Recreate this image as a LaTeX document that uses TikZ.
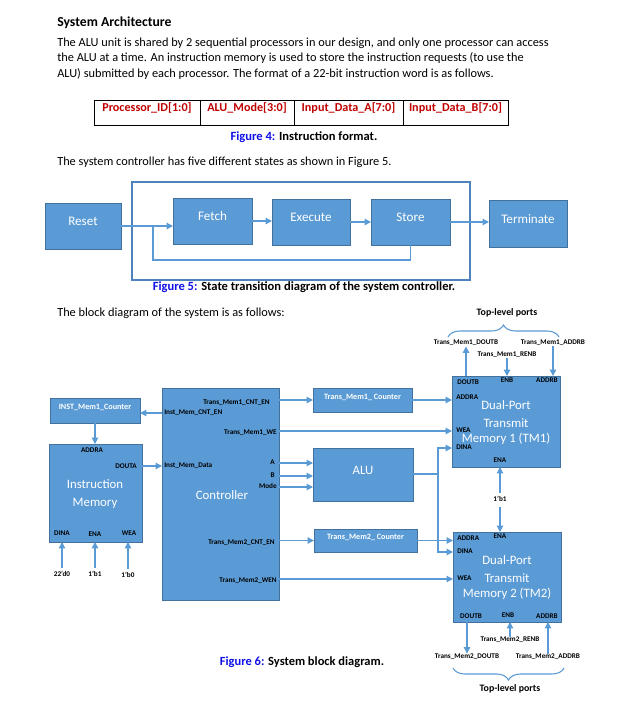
\documentclass[tikz,border=0pt]{standalone}
\usepackage{fontspec}
\setmainfont{Carlito}
\usetikzlibrary{arrows.meta,fit,decorations.pathreplacing}
\definecolor{boxblue}{HTML}{5B9BD5}
\definecolor{boxedge}{HTML}{41719C}
\definecolor{arrowblue}{HTML}{5B9BD5}
\definecolor{framecol}{HTML}{4F81BD}
\definecolor{capblue}{HTML}{1010E8}
\definecolor{tabred}{HTML}{C00000}
\tikzset{
  blk/.style={draw=boxedge, fill=boxblue, line width=0.7pt, inner sep=0pt, outer sep=0pt, text=white},
  arr/.style={draw=arrowblue, line width=0.9pt, -{Triangle[length=4.8pt,width=4.8pt]}},
  wire/.style={draw=arrowblue, line width=0.9pt},
  port/.style={font=\fontsize{5.4}{6}\selectfont\bfseries, inner sep=0pt, text=black, text height=3.8pt, text depth=1pt},
  cntlbl/.style={font=\fontsize{6.1}{7}\selectfont\bfseries},
  body/.style={font=\fontsize{9.25}{11}\selectfont, inner sep=0pt, anchor=west, text height=6.8pt, text depth=2pt},
  capt/.style={font=\fontsize{9.4}{11}\selectfont\bfseries, inner sep=0pt, text height=6.8pt, text depth=2pt},
  big/.style={font=\fontsize{9.6}{11}\selectfont, text=white, inner sep=0pt},
  fsbox/.style={blk, font=\fontsize{9.8}{11}\selectfont},
  tcell/.style={draw=black, line width=0.6pt, inner sep=0pt, text=tabred, font=\fontsize{9.1}{11}\selectfont\bfseries},
  brc/.style={draw=arrowblue, line width=0.8pt, decorate, decoration={brace, amplitude=9pt}},
  tlp/.style={font=\fontsize{7.4}{8}\selectfont\bfseries, inner sep=0pt},
}
\begin{document}
\begin{tikzpicture}[x=0.75pt,y=-0.75pt]
\useasboundingbox (0,0) rectangle (624,708);
\fill[white] (0,0) rectangle (624,708);

% ---- text ----
\node[body, font=\fontsize{10.3}{12}\selectfont\bfseries] (title) at (57,23) {System Architecture};
\node[body] (p1) at (57,43) {The ALU unit is shared by 2 sequential processors in our design, and only one processor can access};
\node[body] (p2) at (57,58.4) {the ALU at a time. An instruction memory is used to store the instruction requests (to use the};
\node[body] (p3) at (57,73.8) {ALU) submitted by each processor. The format of a 22-bit instruction word is as follows.};

% ---- table ----
\node[tcell, fit={(94,100) (200,125)}] (t1) {Processor\_ID[1:0]};
\node[tcell, fit={(200,100) (294,125)}] (t2) {ALU\_Mode[3:0]};
\node[tcell, fit={(294,100) (403,125)}] (t3) {Input\_Data\_A[7:0]};
\node[tcell, fit={(403,100) (508,125)}] (t4) {Input\_Data\_B[7:0]};
\node[capt] (cap4) at (304,137) {{\color{capblue}Figure 4:} Instruction format.};

\node[body] (p4) at (57,162) {The system controller has five different states as shown in Figure 5.};

% ---- figure 5 ----
\node[draw=framecol, line width=0.8pt, inner sep=0pt, fit={(132,182) (470,280)}] (frame) {};
\node[fsbox, fit={(45,203) (121,249)}] (reset) {Reset};
\node[fsbox, fit={(173,198) (252,244)}] (fetch) {Fetch};
\node[fsbox, fit={(272,199) (350,245)}] (execute) {Execute};
\node[fsbox, fit={(371,199) (450,245)}] (store) {Store};
\node[fsbox, fit={(489,200) (567,247)}] (terminate) {Terminate};
\draw[arr] (reset.east) -- (reset.east -| fetch.west);
\draw[arr] (fetch.east) -- (fetch.east -| execute.west);
\draw[arr] (execute.east) -- (execute.east -| store.west);
\draw[arr] (store.east) -- (store.east -| terminate.west);
\coordinate (lp) at (153,260);
\draw[wire] (store.south) |- (lp) -- (lp |- reset.east);
\node[capt] (cap5) at (304,287) {{\color{capblue}Figure 5:} State transition diagram of the system controller.};

\node[body] (p5) at (57,313) {The block diagram of the system is as follows:};

% ---- figure 6 ----
% top ports
\node[tlp] (tlp1) at (507,313) {Top-level ports};
\draw[brc] (448,337) -- (559,337);
\node[port] (d1) at (466,343) {Trans\_Mem1\_DOUTB};
\node[port] (a1) at (553,343) {Trans\_Mem1\_ADDRB};
\node[port] (r1) at (507,355) {Trans\_Mem1\_RENB};

% TM1
\node[blk, fit={(452,376) (560,467)}] (tm1) {};
\node[big] (tm1a) at (506,405) {Dual-Port};
\node[big] (tm1b) at (506,423) {Transmit};
\node[big] (tm1c) at (506,439) {Memory 1 (TM1)};
\node[port, anchor=west] (doutbA) at (457,383) {DOUTB};
\node[port] (enbA) at (507,381) {ENB};
\node[port, anchor=east] (addrbA) at (558,381) {ADDRB};
\node[port, anchor=west] (addraA) at (456,398) {ADDRA};
\node[port, anchor=west] (weaA) at (456,431) {WEA};
\node[port, anchor=west] (dinaA) at (456,448) {DINA};
\node[port] (enaA) at (500,461) {ENA};
\draw[arr] (tm1.north -| d1) -- (d1.south);
\draw[arr] (r1.south) -- (r1.south |- tm1.north);
\draw[arr] (a1.south) -- (a1.south |- tm1.north);

% TM2
\node[blk, fit={(453,532) (561,622)}] (tm2) {};
\node[big] (tm2a) at (507,560) {Dual-Port};
\node[big] (tm2b) at (507,578) {Transmit};
\node[big] (tm2c) at (507,594) {Memory 2 (TM2)};
\node[port, anchor=west] (addraB) at (457,539) {ADDRA};
\node[port] (enaB) at (500,537) {ENA};
\node[port, anchor=west] (dinaB) at (457,552) {DINA};
\node[port, anchor=west] (weaB) at (457,579) {WEA};
\node[port] (doutbB) at (471,617) {DOUTB};
\node[port] (enbB) at (508,616) {ENB};
\node[port, anchor=east] (addrbB) at (558,617) {ADDRB};
\node[port] (r2) at (510,640) {Trans\_Mem2\_RENB};
\node[port] (d2) at (467,657) {Trans\_Mem2\_DOUTB};
\node[port] (a2) at (548,657) {Trans\_Mem2\_ADDRB};
\draw[arr] (tm2.south -| d2) -- (d2.north);
\draw[arr] (r2.north) -- (r2.north |- tm2.south);
\draw[arr] (a2.north) -- (a2.north |- tm2.south);
\draw[brc] (564,668) -- (453,668);
\node[tlp] (tlp2) at (510,689) {Top-level ports};

% 1'b1
\node[port] (k4) at (500,500) {1’b1};
\draw[arr] (k4.north) ++(0,-4) -- (k4.north |- tm1.south);
\draw[arr] (k4.south) ++(0,4) -- (k4.south |- tm2.north);

% left side
\node[blk, cntlbl, fit={(50,398) (140,423)}] (cnt0) {INST\_Mem1\_Counter};
\node[blk, fit={(49,444) (142,542)}] (imem) {};
\node[big] (imemA) at (95,484) {Instruction};
\node[big] (imemB) at (95,503) {Memory};
\node[port] (addraI) at (92,451) {ADDRA};
\node[port, anchor=east] (doutaI) at (137,467) {DOUTA};
\node[port] (dinaI) at (62,534) {DINA};
\node[port] (enaI) at (95,535) {ENA};
\node[port] (weaI) at (129,534) {WEA};
\node[port] (k1) at (62,575) {22’d0};
\node[port] (k2) at (95,575) {1’b1};
\node[port] (k3) at (128,576) {1’b0};
\draw[arr] (k1.north) ++(0,-4) -- (k1.north |- imem.south);
\draw[arr] (k2.north) ++(0,-4) -- (k2.north |- imem.south);
\draw[arr] (k3.north) ++(0,-4) -- (k3.north |- imem.south);
\draw[arr] (cnt0.south) -- (cnt0.south |- imem.north);

% controller
\node[blk, fit={(162,388) (279,600)}] (ctrl) {};
\node[big] (ctrlT) at (222,495) {Controller};
\node[port, anchor=east] (l1) at (270,403) {Trans\_Mem1\_CNT\_EN};
\node[port, anchor=west] (l2) at (164,413) {Inst\_Mem\_CNT\_EN};
\node[port, anchor=east] (l3) at (277,433) {Trans\_Mem1\_WE};
\node[port, anchor=west] (l4) at (164,466) {Inst\_Mem\_Data};
\node[port, anchor=east] (la) at (275,463) {A};
\node[port, anchor=east] (lb) at (275,476) {B};
\node[port, anchor=east] (lm) at (277,487) {Mode};
\node[port, anchor=east] (l5) at (275,543) {Trans\_Mem2\_CNT\_EN};
\node[port, anchor=east] (l6) at (277,581) {Trans\_Mem2\_WEN};
\draw[arr] (ctrl.west |- l2) -- (cnt0.east |- l2);
\draw[arr] (imem.east |- l4) -- (ctrl.west |- l4);

% middle blocks
\node[blk, cntlbl, fit={(313,388) (412,412)}] (c1) {Trans\_Mem1\_ Counter};
\node[blk, fit={(313,448) (413,501)}, font=\fontsize{9.6}{11}\selectfont] (alu) {ALU};
\node[blk, cntlbl, fit={(314,529) (417,552)}] (c2) {Trans\_Mem2\_ Counter};
\draw[arr] (ctrl.east |- c1) -- (c1.west);
\draw[arr] (c1.east) -- (c1.east -| tm1.west);
\draw[arr] (ctrl.east |- weaA) -- (tm1.west |- weaA);
\draw[arr] (ctrl.east |- la) -- (alu.west |- la);
\draw[arr] (ctrl.east |- lb) -- (alu.west |- lb);
\draw[arr] (ctrl.east |- lm) -- (alu.west |- lm);
\draw[arr] (ctrl.east |- c2) -- (c2.west);
\draw[arr] (c2.east) -- (c2.east -| tm2.west);
\draw[arr] (ctrl.east |- weaB) -- (tm2.west |- weaB);
\coordinate (aj) at (438,474);
\draw[wire] (alu.east |- aj) -- (aj);
\draw[arr] (aj) |- (tm1.west |- dinaA);
\draw[arr] (aj) |- (tm2.west |- dinaB);

\node[font=\fontsize{9.35}{11}\selectfont\bfseries, inner sep=0pt] (cap6) at (302,662) {{\color{capblue}Figure 6:} System block diagram.};
\end{tikzpicture}
\end{document}
